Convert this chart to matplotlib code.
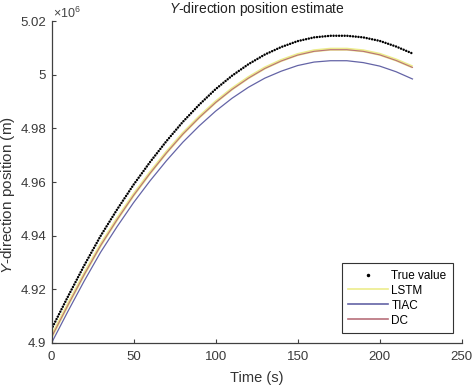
import matplotlib
matplotlib.use("Agg")
import matplotlib.pyplot as plt
from matplotlib.lines import Line2D
from matplotlib.ticker import FuncFormatter

plt.rcParams['font.family'] = ['Liberation Sans', 'DejaVu Sans']
plt.rcParams['mathtext.fontset'] = 'custom'
plt.rcParams['mathtext.it'] = 'Liberation Sans:italic'
plt.rcParams['mathtext.rm'] = 'Liberation Sans'

# Time (s)
time_s = [0, 10, 20, 30, 40, 50, 60, 70, 80, 90, 100, 110, 120, 130, 140,
          150, 160, 170, 180, 190, 200, 210, 220]
# Y-direction position, in units of 1e6 m
true_value = [4.9052, 4.9173, 4.9290, 4.9400, 4.9498, 4.9590, 4.9674, 4.9752,
              4.9824, 4.9888, 4.9946, 4.9996, 5.0039, 5.0075, 5.0103, 5.0125,
              5.0139, 5.0145, 5.0145, 5.0139, 5.0126, 5.0105, 5.0079]
lstm = [4.9024, 4.9143, 4.9258, 4.9366, 4.9462, 4.9552, 4.9634, 4.9710,
        4.9780, 4.9842, 4.9898, 4.9947, 4.9989, 5.0025, 5.0053, 5.0075,
        5.0089, 5.0095, 5.0095, 5.0089, 5.0076, 5.0055, 5.0029]
tiac = [4.9000, 4.9118, 4.9232, 4.9339, 4.9434, 4.9523, 4.9604, 4.9679,
        4.9748, 4.9809, 4.9864, 4.9912, 4.9953, 4.9987, 5.0013, 5.0034,
        5.0047, 5.0052, 5.0052, 5.0045, 5.0032, 5.0011, 4.9984]
dc = [4.9022, 4.9141, 4.9256, 4.9364, 4.9460, 4.9550, 4.9632, 4.9708,
      4.9778, 4.9840, 4.9896, 4.9945, 4.9987, 5.0023, 5.0051, 5.0073,
      5.0087, 5.0093, 5.0093, 5.0087, 5.0074, 5.0053, 5.0027]

x_ticks = [0, 50, 100, 150, 200, 250]
y_ticks = [4.90, 4.92, 4.94, 4.96, 4.98, 5.00, 5.02]

c_lstm = '#ecec8c'
c_tiac = '#6464a6'
c_dc = '#b8707a'
tick_col = '#404040'

fig = plt.figure(figsize=(4.74, 3.87), dpi=100)
ax = fig.add_axes([0.1087, 0.1137, 0.8653, 0.832])

ax.plot(time_s, lstm, color=c_lstm, lw=2.2, solid_capstyle='butt')
ax.plot(time_s, tiac, color=c_tiac, lw=0.9)
ax.plot(time_s, dc, color=c_dc, lw=0.8)
ax.plot(time_s, true_value, color='black', lw=1.8, linestyle=(0, (0.01, 1.1)),
        dash_capstyle='round')

ax.set_xlim(0, 250)
ax.set_ylim(4.9, 5.02)
ax.set_xticks(x_ticks)
ax.set_yticks(y_ticks)
ax.yaxis.set_major_formatter(FuncFormatter(lambda v, p: ('%.2f' % v).rstrip('0').rstrip('.')))

for s in ['top', 'right']:
    ax.spines[s].set_visible(False)
for s in ['left', 'bottom']:
    ax.spines[s].set_color(tick_col)
    ax.spines[s].set_linewidth(0.9)
ax.tick_params(direction='in', length=3, width=0.8, colors=tick_col,
               labelsize=9.5, labelcolor='#3a3a3a')
ax.tick_params(axis='x', pad=6)
ax.tick_params(axis='y', pad=4)

ax.set_title(r'$\mathit{Y}$-direction position estimate', fontsize=10,
             color='#222222', pad=6)
ax.set_xlabel('Time (s)', fontsize=10.5, color='#333333')
ax.set_ylabel(r'$\mathit{Y}$-direction position (m)', fontsize=11,
              color='#333333')
ax.xaxis.set_label_coords(0.5, -0.088)
ax.yaxis.set_label_coords(-0.083, 0.46)
ax.text(0.003, 1.0, r'$\times10^6$', transform=ax.transAxes, fontsize=9,
        color='#444444', ha='left', va='bottom')

handles = [
    Line2D([], [], color='black', marker='.', markersize=3, linestyle='None'),
    Line2D([], [], color=c_lstm, lw=1.2),
    Line2D([], [], color=c_tiac, lw=1.2),
    Line2D([], [], color=c_dc, lw=1.2),
]
leg = ax.legend(handles, ['True value', 'LSTM', 'TIAC', 'DC'],
                loc='lower right', bbox_to_anchor=(0.979, 0.031),
                fontsize=8.5, handlelength=3.4, handletextpad=0.25,
                labelspacing=0.25, borderpad=0.55, fancybox=False,
                framealpha=1, edgecolor='#333333', borderaxespad=0)
leg.get_frame().set_linewidth(0.8)

fig.savefig('out.png', dpi=100)
